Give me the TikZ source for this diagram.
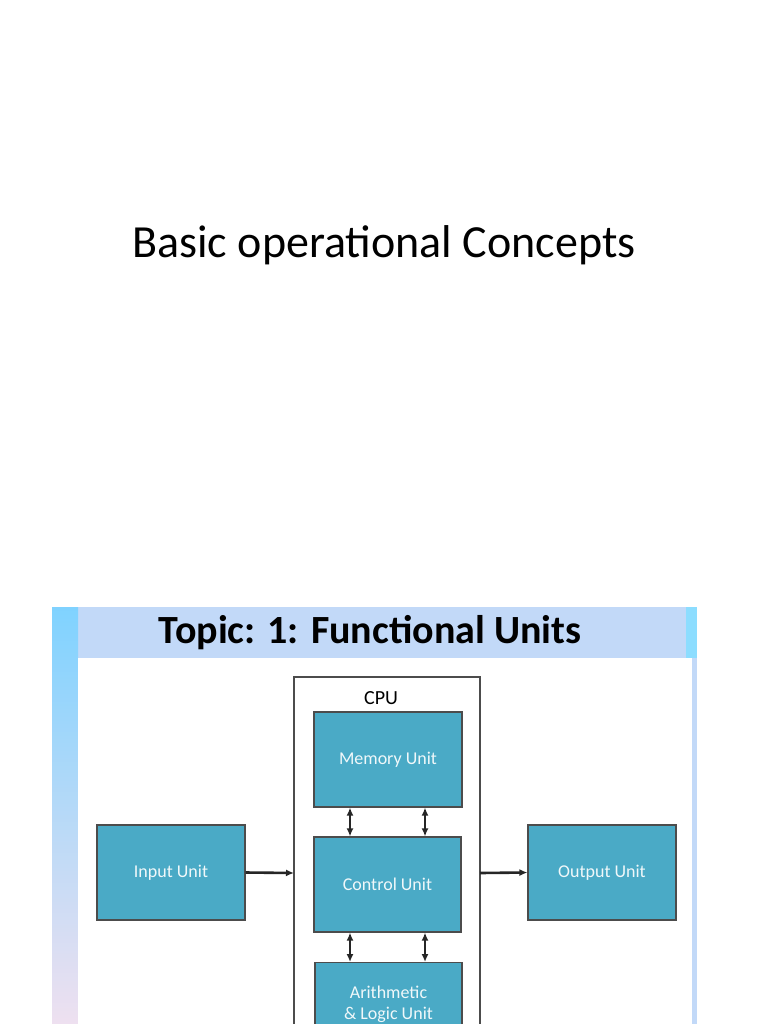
\documentclass[tikz,border=0pt]{standalone}
\usepackage{fontspec}
\setmainfont{Carlito}
\begin{document}
\begin{tikzpicture}[x=1pt,y=-1pt,
  unit/.style={draw=black!70,line width=1.2pt,fill=teal1,text=white!92!teal1,inner sep=0pt,font=\fontsize{18}{21}\selectfont,align=center},
  arr/.style={-{Latex[length=8pt,width=7pt]},line width=2.6pt,black!85},
  darr/.style={{Latex[length=8pt,width=7pt]}-{Latex[length=8pt,width=7pt]},line width=2.6pt,black!85}]
\usetikzlibrary{arrows.meta}
\definecolor{teal1}{HTML}{4AAAC6}
\definecolor{band}{HTML}{C2D9F8}
\useasboundingbox (0,0) rectangle (768,1024);
\fill[white] (0,0) rectangle (768,1024);
\node[font=\fontsize{46}{52}\selectfont] (title) at (384,245) {Basic operational Concepts};
\begin{scope}
\clip (0,0) rectangle (768,1024);
\fill[band] (52,607) rectangle (697,1030);
\shade[top color=blue!35!cyan!50,bottom color=violet!12] (52,607) rectangle (78,1030);
\fill[blue!30!cyan!45] (686,607) rectangle (697,658);
\fill[white] (78,658) rectangle (692,1030);
\node[font=\bfseries\fontsize{40}{46}\selectfont] (topic) at (370,633) {Topic: 1: Functional Units};
\draw[black!70,line width=1.6pt] (294,1040) -- (294,677) -- (480,677) -- (480,1040);
\node[font=\fontsize{20}{22}\selectfont] (cpu) at (381,698) {CPU};
\node[unit,minimum width=148pt,minimum height=95pt] (mem) at (388,759.5) {Memory Unit};
\node[unit,minimum width=147pt,minimum height=95pt] (ctl) at (387.5,884.5) {Control Unit};
\node[unit,minimum width=147pt,minimum height=95pt,anchor=north] (alu) at (388.5,962) {\\[-50pt]Arithmetic\\\& Logic Unit};
\node[unit,minimum width=148pt,minimum height=95pt] (in) at (171,872.5) {Input Unit};
\node[unit,minimum width=148pt,minimum height=95pt] (out) at (602,872.5) {Output Unit};
\coordinate (cpuL) at (294,873);
\coordinate (cpuR) at (480,873);
\draw[arr] (in.east) -- (cpuL);
\draw[arr] (cpuR) -- (out.west);
\draw[darr] (mem.south -| 350,0) -- (ctl.north -| 350,0);
\draw[darr] (mem.south -| 425,0) -- (ctl.north -| 425,0);
\draw[darr] (ctl.south -| 350,0) -- (alu.north -| 350,0);
\draw[darr] (ctl.south -| 425,0) -- (alu.north -| 425,0);
\end{scope}
\end{tikzpicture}
\end{document}
